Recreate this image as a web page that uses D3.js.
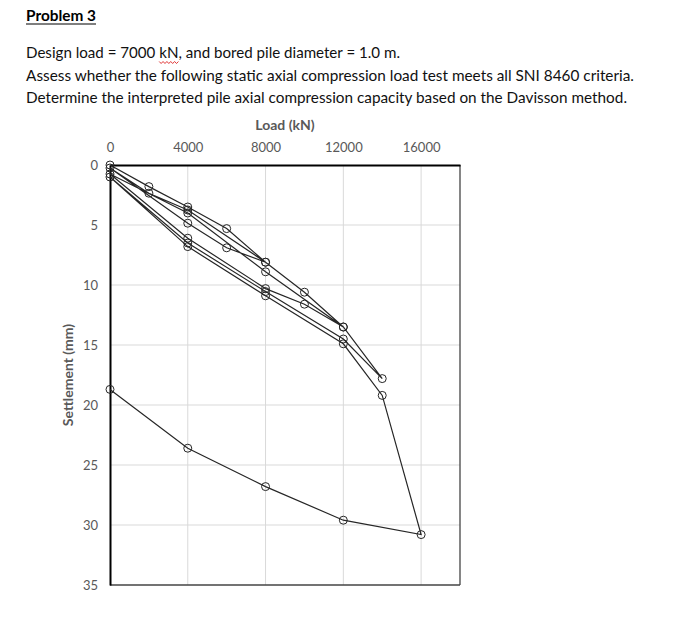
<!DOCTYPE html>
<html>
<head>
<meta charset="utf-8">
<script src="https://cdn.jsdelivr.net/npm/d3@7"></script>
<style>
  body { margin: 0; background: #fff; }
  svg text { font-family: Lato, "Open Sans", sans-serif; }
</style>
</head>
<body>
<script>
// load test readings, in the order they were recorded (load kN, settlement mm)
const loads = [0, 2000, 4000, 6000, 8000, 6000, 4000, 0,
  2000, 4000, 8000, 10000, 12000, 10000, 8000, 4000, 0,
  4000, 8000, 12000, 14000, 12000, 8000, 4000, 0,
  4000, 8000, 12000, 14000, 16000, 12000, 8000, 4000, 0];
const settlements = [0, 1.8, 3.5, 5.3, 8.1, 6.9, 4.85, 0.25,
  2.35, 3.75, 8.1, 10.6, 13.5, 11.6, 10.3, 6.1, 0.75,
  4.0, 8.9, 13.5, 17.8, 14.5, 10.55, 6.5, 1.0,
  6.8, 10.9, 14.9, 19.2, 30.8, 29.6, 26.8, 23.6, 18.7];

const xTicks = [0, 4000, 8000, 12000, 16000];
const yTicks = [0, 5, 10, 15, 20, 25, 30, 35];

const textLines = [
  "Design load = 7000 kN, and bored pile diameter = 1.0 m.",
  "Assess whether the following static axial compression load test meets all SNI 8460 criteria.",
  "Determine the interpreted pile axial compression capacity based on the Davisson method."
];
const textWidths = [374, 608, 601];

let width = 700;
let height = 644;

let svg = d3.select("body")
  .append("svg")
  .attr("width", width)
  .attr("height", height);

// heading
svg.append("text")
  .attr("x", 26).attr("y", 21)
  .attr("font-size", 15).attr("font-weight", "bold")
  .attr("textLength", 70).attr("lengthAdjust", "spacingAndGlyphs")
  .text("Problem 3");
svg.append("line")
  .attr("x1", 26).attr("x2", 96).attr("y1", 24).attr("y2", 24)
  .attr("stroke", "#000").attr("stroke-width", 1.2);

let lines = svg.selectAll("text.line")
  .data(textLines)
  .enter()
  .append("text")
  .attr("class", "line")
  .attr("x", 26)
  .attr("y", (d, i) => 58 + i * 22.5)
  .attr("font-size", 15)
  .attr("fill", "#111")
  .attr("textLength", (d, i) => textWidths[i])
  .attr("lengthAdjust", "spacingAndGlyphs")
  .text(d => d);

// spell-check squiggle under "kN"
let first = lines.node();
let k = textLines[0].indexOf("kN");
let sx = first.getStartPositionOfChar(k).x;
let ex = first.getEndPositionOfChar(k + 1).x;
let sq = "M" + sx + ",61.5";
let n = Math.max(2, Math.round((ex - sx) / 2));
let step = (ex - sx) / n;
for (let i = 0; i < n; i++) sq += " l" + step + "," + (i % 2 ? -2 : 2);
svg.append("path").attr("d", sq).attr("fill", "none")
  .attr("stroke", "#d22").attr("stroke-width", 0.9);

let x = d3.scaleLinear().domain([0, 18000]).range([110, 460]);
let y = d3.scaleLinear().domain([0, 35]).range([165, 585]);

// grid
svg.append("g")
  .selectAll("line")
  .data(xTicks.slice(1))
  .enter()
  .append("line")
  .attr("x1", d => x(d)).attr("x2", d => x(d))
  .attr("y1", y(0)).attr("y2", y(35))
  .attr("stroke", "#d9d9d9").attr("stroke-width", 1);
svg.append("g")
  .selectAll("line")
  .data(yTicks.slice(1, -1))
  .enter()
  .append("line")
  .attr("x1", x(0)).attr("x2", x(18000))
  .attr("y1", d => y(d)).attr("y2", d => y(d))
  .attr("stroke", "#d9d9d9").attr("stroke-width", 1);

// frame
svg.append("line").attr("x1", x(18000)).attr("x2", x(18000))
  .attr("y1", y(0)).attr("y2", y(35)).attr("stroke", "#444").attr("stroke-width", 1.3);
svg.append("line").attr("x1", x(0)).attr("x2", x(18000))
  .attr("y1", y(35)).attr("y2", y(35)).attr("stroke", "#444").attr("stroke-width", 1.3);

let xAxis = svg.append("g")
  .attr("transform", "translate(0," + y(0) + ")")
  .call(d3.axisTop(x).tickValues(xTicks).tickFormat(d3.format("d")).tickSize(0).tickPadding(13));
let yAxis = svg.append("g")
  .attr("transform", "translate(" + x(0) + ",0)")
  .call(d3.axisLeft(y).tickValues(yTicks).tickFormat(d3.format("d")).tickSize(0).tickPadding(12));

[xAxis, yAxis].forEach(a => {
  a.select(".domain").attr("stroke", "#000").attr("stroke-width", 2);
  a.selectAll("text").attr("font-size", 13).attr("fill", "#595959")
    .attr("font-family", "Lato, 'Open Sans', sans-serif");
});

svg.append("text")
  .attr("x", 285).attr("y", 130)
  .attr("text-anchor", "middle")
  .attr("font-size", 14).attr("font-weight", "bold").attr("fill", "#595959")
  .text("Load (kN)");
svg.append("text")
  .attr("transform", "translate(73,375) rotate(-90)")
  .attr("text-anchor", "middle")
  .attr("font-size", 14).attr("font-weight", "bold").attr("fill", "#595959")
  .text("Settlement (mm)");

// test curve
let points = loads.map((d, i) => [d, settlements[i]]);
let line = d3.line().x(d => x(d[0])).y(d => y(d[1]));

svg.append("path")
  .datum(points)
  .attr("d", line)
  .attr("fill", "none")
  .attr("stroke", "#262626")
  .attr("stroke-width", 1.2);

svg.selectAll("circle")
  .data(points)
  .enter()
  .append("circle")
  .attr("cx", d => x(d[0]))
  .attr("cy", d => y(d[1]))
  .attr("r", 4)
  .attr("fill", "none")
  .attr("stroke", "#262626")
  .attr("stroke-width", 1);
</script>
</body>
</html>
